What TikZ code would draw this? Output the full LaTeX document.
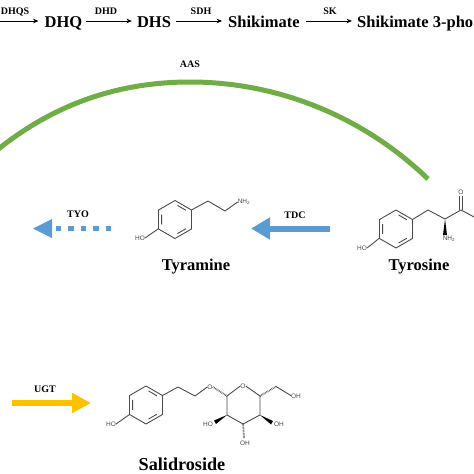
\documentclass[tikz,border=0pt]{standalone}
\usepackage{fontspec}
\setmainfont{Liberation Serif}
\setsansfont{Liberation Sans}
\usetikzlibrary{calc,arrows.meta,positioning}
\definecolor{arcg}{HTML}{70AD47}
\definecolor{tdcb}{HTML}{5B9BD5}
\definecolor{ugty}{HTML}{FFC000}
\definecolor{bondc}{HTML}{4A4A4A}
\tikzset{
  ar/.style={-{Stealth[length=1.9mm,width=1.6mm]},line width=0.8pt,black},
  met/.style={font=\bfseries\fontsize{16.5}{17}\selectfont,inner sep=0pt,anchor=base},
  enz/.style={font=\bfseries\fontsize{10}{10}\selectfont,inner sep=0pt,anchor=base},
  atom/.style={font=\sffamily\fontsize{6.5}{6.5}\selectfont,inner sep=0pt,bondc},
  bond/.style={line width=0.9pt,bondc,line join=round},
  hashb/.style={bondc,line width=1.8pt,dash pattern=on 0.6pt off 0.9pt},
  bigar/.style={line width=6pt}
}
% benzene ring, #1 = centre
\newcommand{\phenol}[1]{
  \begin{scope}[shift={#1}]
    \draw[bond] (90:19) -- (30:19) -- (-30:19) -- (-90:19) -- (-150:19) -- (150:19) -- cycle;
    \draw[bond] (80:14.3) -- (40:14.3) (-40:14.3) -- (-80:14.3) (160:14.3) -- (-160:14.3);
  \end{scope}
}
\begin{document}
\begin{tikzpicture}[x=1pt,y=-1pt]
\useasboundingbox (0,0) rectangle (474,474);
% top row
\coordinate (c0) at (-2,21);
\node[met] (dhq) at (63.5,27.5) {DHQ};
\node[met] (dhs) at (154,27.5) {DHS};
\node[met] (shik) at (264,27.5) {Shikimate};
\node[met,anchor=base west] (sp) at (357,27.5) {Shikimate 3-pho};
\draw[ar] (c0) -- ([shift={(-6pt,6.5pt)}]dhq.base west);
\draw[ar] ([shift={(4pt,6.5pt)}]dhq.base east) -- ([shift={(-5pt,6.5pt)}]dhs.base west);
\draw[ar] ([shift={(5pt,6.5pt)}]dhs.base east) -- ([shift={(-6pt,6.5pt)}]shik.base west);
\draw[ar] ([shift={(6pt,6.5pt)}]shik.base east) -- ([shift={(-5pt,6.5pt)}]sp.base west);
\node[enz] (dhqs) at (15,14) {DHQS};
\node[enz] (dhd) at (106,14) {DHD};
\node[enz] (sdh) at (201,14) {SDH};
\node[enz] (sk) at (330,14) {SK};
\node[enz] (aas) at (190,67) {AAS};
% green arc
\coordinate (ga) at (-4,151);
\coordinate (gb) at (428,179);
\draw[arcg,line width=5pt] (ga) .. controls (55,103) and (120,82) .. (190,82) .. controls (280,82) and (365,118) .. (gb);
% enzyme arrows
\coordinate (tdcs) at (330,228.5);
\coordinate (tdce) at (251,228.5);
\draw[tdcb,bigar,-{Triangle[length=19pt,width=21pt]}] (tdcs) -- (tdce);
\node[enz] (tdc) at (295,218) {TDC};
\coordinate (tyos) at (111,228.5);
\coordinate (tyom) at (55,228.5);
\draw[tdcb,bigar,line width=5.5pt,dash pattern=on 5.5pt off 7pt] (tyos) -- (tyom);
\fill[tdcb] (33,228.5) -- (52,219) -- (52,238) -- cycle;
\node[enz] (tyo) at (78,217) {TYO};
\coordinate (ugts) at (12,403);
\coordinate (ugte) at (91,403);
\draw[ugty,bigar,-{Triangle[length=19pt,width=19pt]}] (ugts) -- (ugte);
\node[enz] (ugt) at (45,392) {UGT};
% tyramine
\phenol{(175,219.5)}
\node[met] (tyra) at (196,270) {Tyramine};
\node[atom] (oh1) at (140,238) {HO};
\node[atom] (nh1) at (244,202) {NH\textsubscript{2}};
\draw[bond] (oh1.east) -- (158,229) (191.5,210) -- (208,201) -- (225,211) -- (nh1.west);
% tyrosine
\phenol{(396,229)}
\node[met] (tyro) at (419,270) {Tyrosine};
\node[atom] (oh2) at (362,248) {HO};
\node[atom] (nh2) at (449,239) {NH\textsubscript{2}};
\node[atom] (o2) at (461,192) {O};
\draw[bond] (oh2.east) -- (379,238.5) (412.5,219.5) -- (428,210) -- (445,219) -- (461,210) -- (476,218);
\draw[bond] (459.5,196) -- (459.5,210) (462.5,196) -- (462.5,210);
\fill[black] (445,219) -- (447,235) -- (443,235) -- cycle;
% salidroside
\phenol{(146,405)}
\node[met,font=\bfseries\fontsize{18.2}{18}\selectfont] (sal) at (182,470) {Salidroside};
\node[atom] (oh3) at (111,424) {HO};
\node[atom] (o3) at (210,387) {O};
\node[atom] (o4) at (243,386) {O};
\node[atom] (oh4) at (208,424) {HO};
\node[atom] (oh5) at (245,443) {OH};
\node[atom] (oh6) at (279,424) {OH};
\node[atom] (oh7) at (296,396) {OH};
\draw[bond] (oh3.east) -- (129.5,414.5) (162.5,395.5) -- (178,387) -- (195,396) -- (o3.west);
\draw[bond] (o4.east) -- (260,396) -- (260,415) -- (243,424) -- (227,415) -- (227,396) -- (o4.west);
\draw[hashb] (o3.east) -- (227,396);
\draw[hashb] (260,396) -- (276,386.5);
\draw[hashb] (243,424) -- (244,438);
\draw[bond] (276,386.5) -- (290,395) -- (oh7.west);
\fill[black] (227,415) -- (214,420.5) -- (216,424) -- cycle;
\fill[black] (260,415) -- (273,421) -- (271,424.5) -- cycle;
\end{tikzpicture}
\end{document}
